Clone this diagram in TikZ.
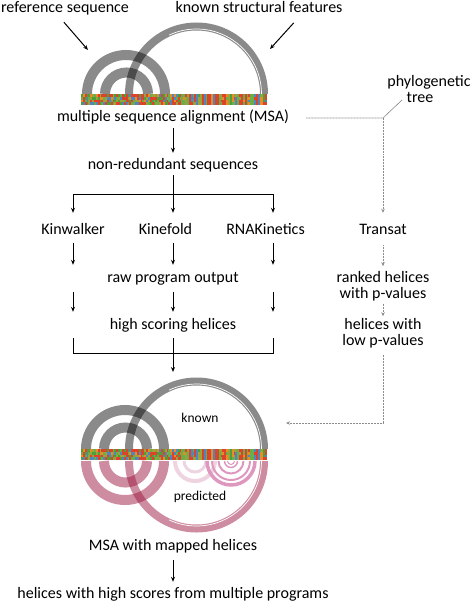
\documentclass[tikz,border=0pt]{standalone}
\usepackage{fontspec}
\setmainfont{Carlito}
\usetikzlibrary{arrows.meta}
\definecolor{predmauve}{RGB}{155,25,65}
\definecolor{predpink}{RGB}{222,152,192}
\definecolor{predfaint}{RGB}{238,212,224}
\definecolor{treegray}{HTML}{8C8C8C}
\definecolor{msa1}{HTML}{E2402C}
\definecolor{msa2}{HTML}{4E9E3A}
\definecolor{msa3}{HTML}{EA8B26}
\definecolor{msa4}{HTML}{4F86C0}
\definecolor{msa5}{HTML}{9AA33C}
\definecolor{msa6}{HTML}{D8462A}
\definecolor{msa7}{HTML}{6AAE4A}

\tikzset{
  lbl/.style={font=\fontsize{16}{16}\selectfont, inner sep=2pt, text height=12pt, text depth=4pt},
  lbltwo/.style={font=\fontsize{16}{15.5}\selectfont, inner sep=2pt, align=center},
  lblsmall/.style={font=\fontsize{13.5}{14}\selectfont, inner sep=1pt},
  arr/.style={-{Stealth[length=5pt,width=4pt]}, line width=1pt},
  gline/.style={treegray, line width=0.8pt, dash pattern=on 1pt off 0.5pt},
  garr/.style={gline, -{Stealth[length=4pt,width=3.5pt]}},
  knownhx/.style={black, opacity=0.46},
  predhx/.style={predmauve, opacity=0.5},
}

% coloured alignment bar, top edge at #1
\newcommand{\msabar}[1]{%
  \pgfmathsetseed{11}%
  \foreach \i in {0,...,99}{%
    \pgfmathrandominteger{\cc}{1}{7}%
    \foreach \j in {0,1,2,3}{%
      \pgfmathrandominteger{\ci}{1}{7}%
      \ifnum\i>52 \pgfmathrandominteger{\keep}{0}{3}\ifnum\keep>0 \let\ci\cc\fi\fi
      \fill[msa\ci] ({81+\i*1.86},{#1-\j*2.78}) rectangle ++(1.95,-2.85);
    }}}

\begin{document}
\begin{tikzpicture}[x=1pt, y=1pt]
  \useasboundingbox (0,0) rectangle (474,-604);

  % top: reference sequence with known helices
  \draw[knownhx, line width=10pt] (87,-94) arc[start angle=180, end angle=0, radius=39];
  \draw[knownhx, line width=10pt] (105,-94) arc[start angle=180, end angle=0, radius=21.5];
  \draw[knownhx, line width=8pt] (129,-94) arc[start angle=180, end angle=0, radius=67.5];
  \draw[white, line width=0.7pt] (261.5,-94) arc[start angle=0, end angle=115, radius=65];
  \msabar{-94}

  % bottom: known above, predicted below
  \draw[knownhx, line width=10pt] (86,-449) arc[start angle=180, end angle=0, radius=39];
  \draw[knownhx, line width=10pt] (104,-449) arc[start angle=180, end angle=0, radius=21.5];
  \draw[knownhx, line width=8pt] (129,-449) arc[start angle=180, end angle=0, radius=67.5];
  \draw[white, line width=0.7pt] (261.5,-449) arc[start angle=0, end angle=115, radius=65];
  \draw[predhx, line width=10pt] (86,-461) arc[start angle=180, end angle=360, radius=39];
  \draw[predhx, line width=10pt] (104,-461) arc[start angle=180, end angle=360, radius=21.5];
  \draw[predhx, line width=8pt] (129,-461) arc[start angle=180, end angle=360, radius=67.5];
  \draw[white, line width=0.7pt] (261.5,-461) arc[start angle=360, end angle=245, radius=65];
  \draw[predfaint, line width=4pt] (175,-461) arc[start angle=180, end angle=360, radius=20];
  \draw[predfaint, line width=3pt] (184,-461) arc[start angle=180, end angle=360, radius=11];
  \draw[predpink, line width=3.5pt] (207,-461) arc[start angle=180, end angle=360, radius=24];
  \draw[predpink, line width=2pt] (212,-461) arc[start angle=180, end angle=360, radius=19];
  \draw[predpink, line width=2pt] (218.5,-461) arc[start angle=180, end angle=360, radius=12.5];
  \draw[predpink, line width=1.5pt] (224.5,-461) arc[start angle=180, end angle=360, radius=6.5];
  \draw[predpink, line width=1pt] (227.5,-461) arc[start angle=180, end angle=360, radius=3.5];
  \msabar{-449}

  % labels
  \node[lbl] (refseq) at (65,-9) {reference sequence};
  \node[lbl] (feat) at (259,-9) {known structural features};
  \node[lbl] (msa) at (173,-118) {multiple sequence alignment (MSA)};
  \node[lbl] (phylo) at (429,-83) {phylogenetic};
  \node[lbl] (tree) at (420,-99) {tree};
  \node[lbl] (nonred) at (173,-165) {non-redundant sequences};
  \node[lbl] (kinw) at (73,-230) {Kinwalker};
  \node[lbl] (kinf) at (165.5,-230) {Kinefold};
  \node[lbl] (rnak) at (265.5,-230) {RNAKinetics};
  \node[lbl] (transat) at (383,-230) {Transat};
  \node[lbl] (raw) at (173,-278) {raw program output};
  \node[lbl] (high) at (173,-325) {high scoring helices};
  \node[lbltwo] (ranked) at (383,-286) {ranked helices\\with p-values};
  \node[lbltwo] (lowp) at (383,-333) {helices with\\low p-values};
  \node[lblsmall] (known) at (200,-418) {known};
  \node[lblsmall] (predicted) at (200,-497) {predicted};
  \node[lbl] (mapped) at (173,-546) {MSA with mapped helices};
  \node[lbl] (final) at (173,-594) {helices with high scores from multiple programs};

  \coordinate (refarc) at (88,-50);
  \coordinate (featarc) at (270,-49);
  \coordinate (c1) at (73,-194);
  \coordinate (c2) at (173,-194);
  \coordinate (c3) at (273,-194);
  \coordinate (join) at (173,-353);
  \coordinate (figtop) at (173,-372);
  \coordinate (branch) at (383,-118);
  \coordinate (treefoot) at (402,-100);
  \coordinate (corner) at (383,-423);
  \coordinate (figright) at (286,-423);

  % main flow
  \draw[arr, shorten <=4pt] (refseq.250) -- (refarc);
  \draw[arr, shorten <=5pt] (feat.-15) -- (featarc);
  \draw[arr, shorten >=2pt] (msa) -- (nonred);
  \draw[line width=1pt] (nonred) -- (c2);
  \draw[line width=1pt] (c1) -- (c3);
  \foreach \c in {c1,c2,c3}{
    \draw[arr, shorten >=7pt] (\c) -- (\c |- kinw.north);
    \draw[arr, shorten <=3pt, shorten >=3pt] (\c |- kinw.south) -- (\c |- raw.north);
    \draw[arr, shorten <=4pt, shorten >=3pt] (\c |- raw.south) -- (\c |- high.north);
  }
  \draw[line width=1pt, shorten <=3pt, shorten >=3pt] (c1 |- high.south) -- (c1 |- join) -- (c3 |- join) -- (c3 |- high.south);
  \draw[arr, shorten <=3pt] (c2 |- high.south) -- (figtop);
  \draw[arr, shorten <=4pt, shorten >=2pt] (mapped) -- (final);

  % phylogenetic branch
  \draw[gline, shorten <=15pt] (msa) -- (branch) -- (treefoot);
  \draw[garr, shorten >=7pt] (branch) -- (transat);
  \draw[garr, shorten <=5pt, shorten >=3pt] (transat) -- (ranked);
  \draw[garr, shorten <=1pt] (ranked) -- (lowp);
  \draw[garr, shorten <=5pt] (lowp) -- (corner) -- (figright);
\end{tikzpicture}
\end{document}
